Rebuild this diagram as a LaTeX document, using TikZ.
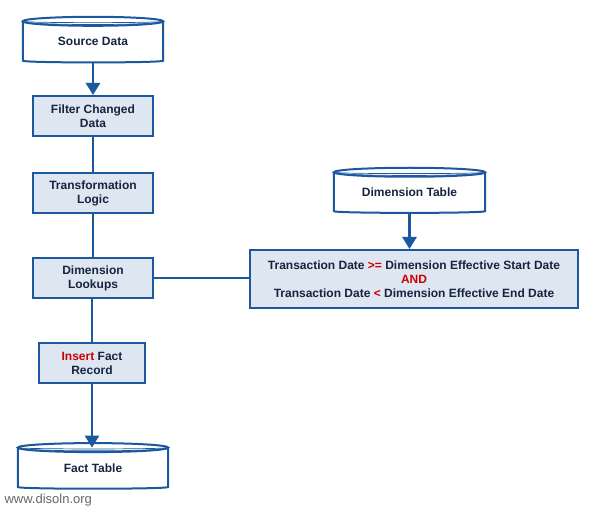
\documentclass[tikz,border=0pt]{standalone}
\usepackage{fontspec}
\setmainfont{Liberation Sans}
\usepackage{tikz}
\usetikzlibrary{calc,arrows.meta}
\definecolor{FlowBlue}{RGB}{28, 88, 158}
\definecolor{BoxFill}{RGB}{222, 230, 241}
\definecolor{TextNavy}{RGB}{22, 36, 64}
\definecolor{KeyRed}{RGB}{204, 0, 0}

\begin{document}
\begin{tikzpicture}[x=1pt, y=-1pt,
    every node/.style={font=\fontsize{12}{14}\selectfont\bfseries, text=TextNavy, align=center},
    procbox/.style={draw=FlowBlue, line width=2pt, fill=BoxFill, minimum width=120pt, minimum height=40pt, inner sep=0pt},
    dbtable/.style={minimum height=40pt, inner sep=0pt},
    dbline/.style={draw=FlowBlue, line width=2pt},
    flowline/.style={draw=FlowBlue, line width=1.8pt},
    flowarrow/.style={flowline, line width=2.6pt, -{Triangle[length=12pt, width=14pt]}}]
          \useasboundingbox[fill=white] (0,0) rectangle (598,508);
          \node[dbtable, minimum width=140pt] (src) at (93,41.5) {Source Data};
          \node[procbox] (filter) at (93,116) {Filter Changed\\Data};
          \node[procbox] (trans) at (93,193) {Transformation\\Logic};
          \node[procbox] (lookups) at (93,278) {Dimension\\Lookups};
          \node[procbox, minimum width=106pt] (insert) at (92,363) {\textcolor{KeyRed}{Insert} Fact\\Record};
          \node[dbtable, minimum width=150pt] (fact) at (93,467.8) {Fact Table};
          \node[dbtable, minimum width=151pt, minimum height=39.5pt] (dimtab) at (409.5,192.2) {Dimension Table};
          \node[procbox, minimum width=328pt, minimum height=58pt] (cond) at (414,279)
            {Transaction Date \textcolor{KeyRed}{>=} Dimension Effective Start Date\\
             \textcolor{KeyRed}{AND}\\
             Transaction Date \textcolor{KeyRed}{<} Dimension Effective End Date};
          \foreach \tbl in {src, dimtab, fact} {
            \path let \p1 = (\tbl.north west), \p2 = (\tbl.south east) in
              [dbline, rounded corners=3pt] (\tbl.north west) -- ($(\tbl.south west)+(0,-4)$)
                .. controls ($(\tbl.south west)+(0,1.3)$) and ($(\tbl.south east)+(0,1.3)$) .. ($(\tbl.south east)+(0,-4)$)
                -- (\tbl.north east)
              [sharp corners] (\tbl.north) ellipse [x radius={(\x2-\x1)/2}, y radius=4.5pt];
            \draw[FlowBlue, line width=0.7pt] (\tbl.north west) .. controls ($(\tbl.north west)+(0,4.3)$) and ($(\tbl.north east)+(0,4.3)$) .. (\tbl.north east);
            \draw[FlowBlue, line width=0.7pt] (\tbl.north west) .. controls ($(\tbl.north west)+(0,1.8)$) and ($(\tbl.north east)+(0,1.8)$) .. (\tbl.north east);
          }
          \draw[flowarrow] (src.south) -- (src.south |- filter.north);
          \draw[flowline] (filter.south) -- (trans.north);
          \draw[flowline] (trans.south) -- (lookups.north);
          \draw[flowline] (lookups.east) -- (lookups.east -| cond.west);
          \draw[flowline] (insert.north) -- (insert.north |- lookups.south);
          \draw[flowarrow] (insert.south) -- (insert.south |- fact.north);
          \draw[flowarrow] (dimtab.south) -- (dimtab.south |- cond.north);
          \node[anchor=base west, font=\fontsize{13}{15}\selectfont, text=black!60] (site) at (1,503) {www.disoln.org};
        \end{tikzpicture}
\end{document}
